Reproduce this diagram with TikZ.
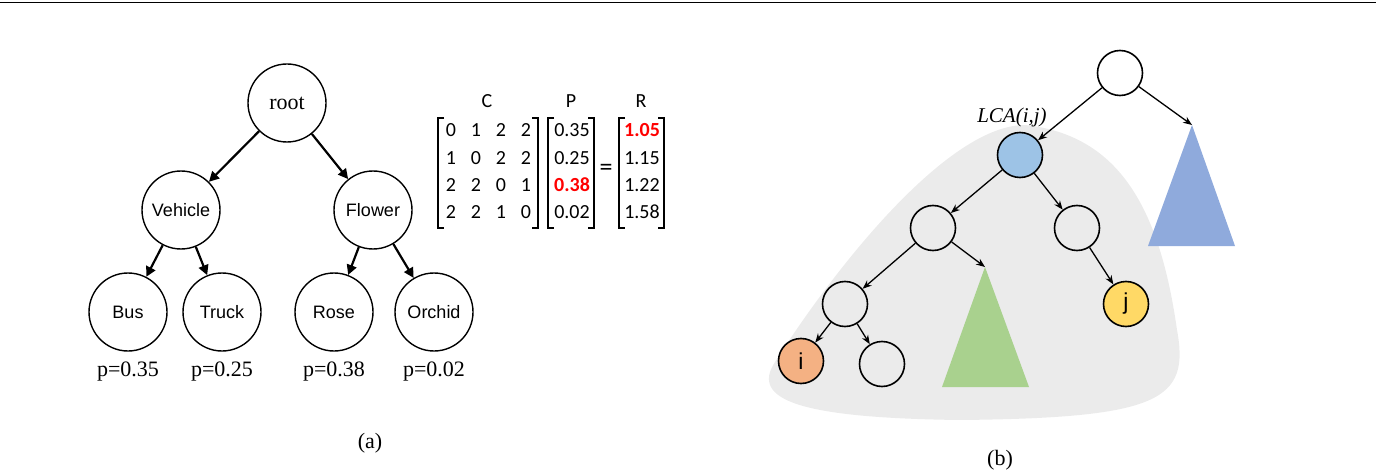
\documentclass[tikz,border=0pt]{standalone}
\usepackage{fontspec}
\setmainfont{Liberation Serif}
\newfontfamily\carl{Carlito}
\newfontfamily\hel{Liberation Sans}
\usetikzlibrary{arrows.meta}
\begin{document}
\begin{tikzpicture}[x=1pt,y=-1pt,
 tn/.style={circle,draw,line width=1.4pt,minimum size=78pt,inner sep=0pt,font=\hel\fontsize{18}{18}\selectfont},
 sn/.style={circle,draw,line width=1.6pt,minimum size=45pt,inner sep=0pt,font=\hel\fontsize{23}{23}\selectfont},
 ta/.style={-{Triangle[length=10pt,width=10pt]},line width=2.2pt},
 sa/.style={-{Stealth[length=9pt,width=7pt]},line width=1.3pt},
 mt/.style={font=\carl\fontsize{20}{20}\selectfont},
 mr/.style={text=red,font=\carl\bfseries\fontsize{20}{20}\selectfont},
 br/.style={line width=1.4pt}]
\useasboundingbox (0,0) rectangle (1376,473);
\draw[line width=0.8pt] (0,2) -- (1376,2);
% left tree
\node[tn,font=\fontsize{22}{22}\selectfont] (root) at (287,103) {root};
\node[tn] (veh) at (181,210) {Vehicle};
\node[tn] (flo) at (373,210) {Flower};
\node[tn] (bus) at (128,312) {Bus};
\node[tn] (tru) at (222,312) {Truck};
\node[tn] (ros) at (334,312) {Rose};
\node[tn] (orc) at (434,312) {Orchid};
\foreach \a/\b in {root/veh,root/flo,veh/bus,veh/tru,flo/ros,flo/orc} \draw[ta] (\a) -- (\b);
\foreach \n/\t in {bus/0.35,tru/0.25,ros/0.38,orc/0.02}
  \node[font=\fontsize{22}{22}\selectfont] (p\n) at ([yshift=-60pt]\n.center) {p=\t};
\node[font=\fontsize{22}{22}\selectfont] (la) at (370,443) {(a)};
% matrices
\node[mt] (lc) at (487,101) {C};
\node[mt] (lp) at (571,101) {P};
\node[mt] (lr) at (641,101) {R};
\foreach \r/\yy in {{0,1,2,2}/130,{1,0,2,2}/158,{2,2,0,1}/185,{2,2,1,0}/212}{
 \foreach \v [count=\c] in \r { \node[mt] (m\c\yy) at (426+25*\c,\yy) {\v}; } }
\node[mt] (p1) at (572,130) {0.35};
\node[mt] (p2) at (572,158) {0.25};
\node[mr] (p3) at (572,185) {0.38};
\node[mt] (p4) at (572,212) {0.02};
\node[mr] (r1) at (642,130) {1.05};
\node[mt] (r2) at (642,158) {1.15};
\node[mt] (r3) at (642,185) {1.22};
\node[mt] (r4) at (642,212) {1.58};
\node[mt,font=\carl\fontsize{26}{26}\selectfont] (eq) at (606,170) {=};
\foreach \l/\r in {438/538,548/594,619/664}{
 \draw[br] (\l+6,118) -- (\l,118) -- (\l,228) -- (\l+6,228);
 \draw[br] (\r-6,118) -- (\r,118) -- (\r,228) -- (\r-6,228);}
% right
\fill[black!8] (1025,125) .. controls (1120,135) and (1160,210) .. (1177,330)
 .. controls (1190,400) and (1160,418) .. (960,420)
 .. controls (800,418) and (750,400) .. (775,362)
 .. controls (840,260) and (950,125) .. (1025,125) -- cycle;
\fill[fill={rgb,255:red,143;green,170;blue,220}] (1192,125) -- (1235,246) -- (1148,246) -- cycle;
\fill[fill={rgb,255:red,169;green,209;blue,142}] (985,267) -- (1029,387) -- (942,387) -- cycle;
\coordinate (tb) at (1192,125);
\coordinate (tg) at (985,267);
\node[sn,fill=white] (R) at (1120,73) {};
\node[sn,fill={rgb,255:red,157;green,195;blue,230}] (L) at (1020,155) {};
\node[sn] (A) at (933,228) {};
\node[sn] (B) at (1077,228) {};
\node[sn] (C) at (845,304) {};
\node[sn,fill={rgb,255:red,244;green,177;blue,131}] (I) at (801,361) {i};
\node[sn] (D) at (882,364) {};
\node[sn,fill={rgb,255:red,255;green,217;blue,102}] (J) at (1126,304) {j};
\foreach \a/\b in {R/L,R/tb,L/A,L/B,A/C,A/tg,B/J,C/I,C/D} \draw[sa] (\a) -- (\b);
\node[font=\itshape\fontsize{21}{21}\selectfont] (lca) at (1012,117) {LCA(i,j)};
\node[font=\fontsize{22}{22}\selectfont] (lb) at (1000,460) {(b)};
\end{tikzpicture}
\end{document}
